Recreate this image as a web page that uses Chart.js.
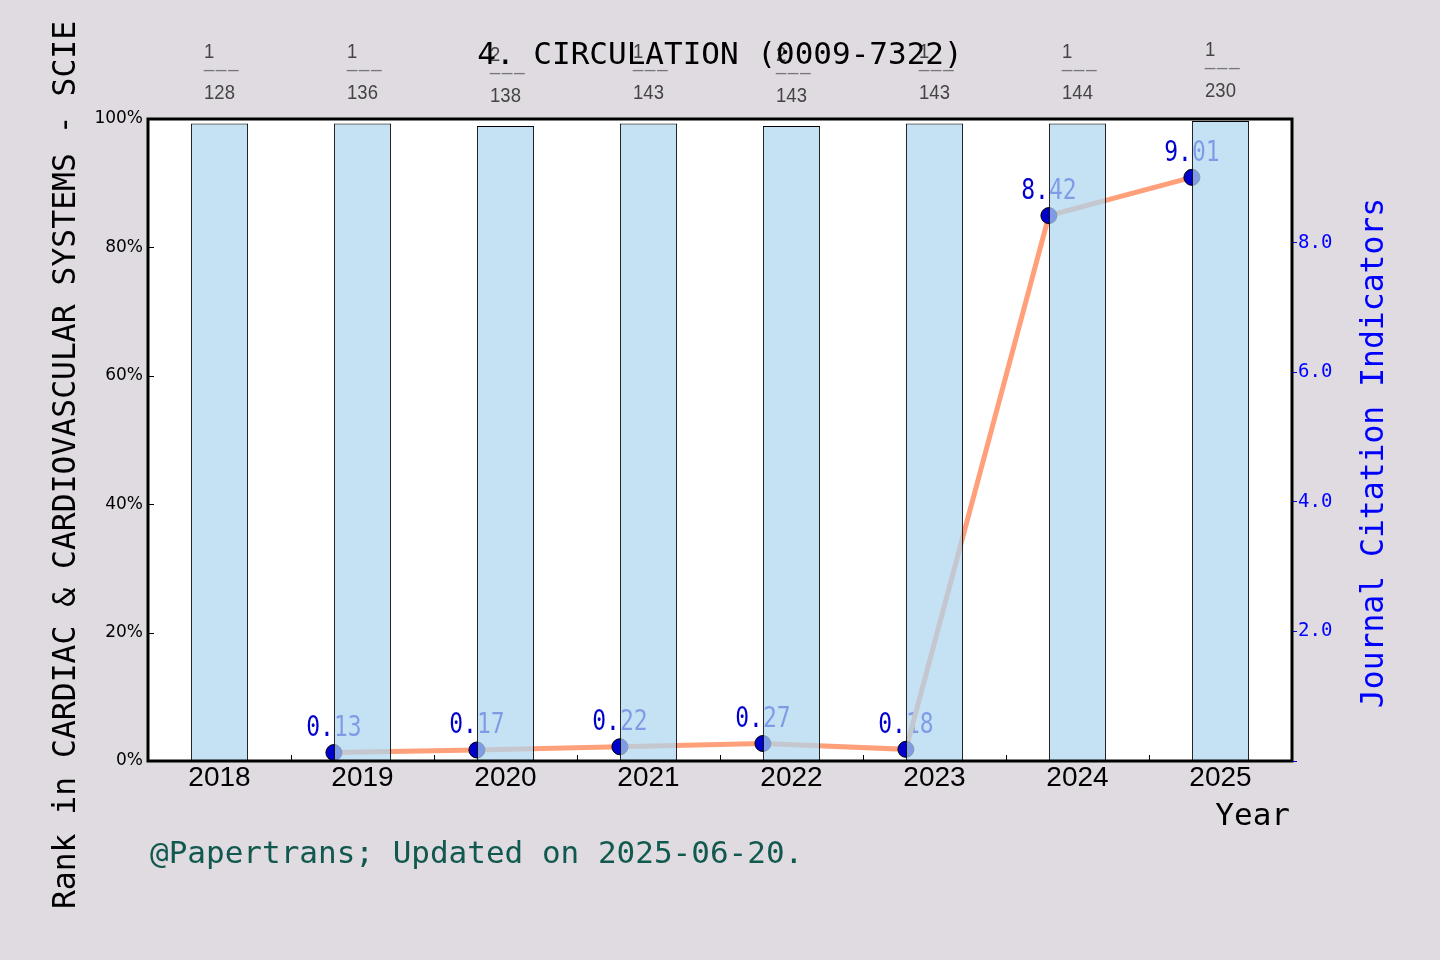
<!DOCTYPE html>
<html>
<head>
<meta charset="utf-8">
<script src="https://cdn.jsdelivr.net/npm/chart.js@4.4.0/dist/chart.umd.min.js"></script>
<style>
  html, body { margin: 0; padding: 0; background: #dfdbe1; }
  #wrap { width: 1440px; height: 960px; }
</style>
</head>
<body>
<div id="wrap"><canvas id="rankChart" width="1440" height="960"></canvas></div>
<script>
// values
const years = ['2018', '2019', '2020', '2021', '2022', '2023', '2024', '2025'];
const rankPct = [99.3, 99.3, 98.9, 99.3, 98.9, 99.3, 99.3, 99.7];
const rankNum = [1, 1, 2, 1, 2, 1, 1, 1];
const rankTotal = [128, 136, 138, 143, 143, 143, 144, 230];
const jci = [null, 0.13, 0.17, 0.22, 0.27, 0.18, 8.42, 9.01];
const pctTicks = [0, 20, 40, 60, 80, 100];
const jciTicks = [0, 2, 4, 6, 8];

const MONO = '"DejaVu Sans Mono", monospace';
const barShift = 0.2; // line points sit on the left edge of each bar

const linePoints = years
    .map((y, i) => ({ x: Number(y) - barShift, y: jci[i] }))
    .filter(p => p.y !== null);

function narrowText(ctx, text, x, y, sx) {
    ctx.save();
    ctx.translate(x, y);
    ctx.scale(sx, 1);
    ctx.fillText(text, 0, 0);
    ctx.restore();
}

const decorations = {
    id: 'decorations',
    beforeDraw(chart) {
        const { ctx, chartArea: a } = chart;
        ctx.save();
        ctx.fillStyle = '#ffffff';
        ctx.fillRect(a.left, a.top, a.right - a.left, a.bottom - a.top);
        ctx.restore();
    },
    beforeDatasetDraw(chart, args) {
        if (args.index !== 1) return;
        // value labels sit under the line and the bars
        const ctx = chart.ctx;
        const pts = chart.getDatasetMeta(1).data;
        ctx.save();
        ctx.fillStyle = '#0000cd';
        ctx.font = '23px ' + MONO;
        ctx.textAlign = 'center';
        ctx.textBaseline = 'middle';
        pts.forEach((p, i) => {
            ctx.save();
            ctx.translate(p.x, p.y - 24);
            ctx.scale(1, 1.25);
            ctx.fillText(linePoints[i].y.toFixed(2), 0, 0);
            ctx.restore();
        });
        ctx.restore();
    },
    afterDatasetsDraw(chart) {
        const { ctx, chartArea: a, scales } = chart;
        ctx.save();
        // inward ticks
        ctx.strokeStyle = '#000';
        ctx.lineWidth = 1;
        pctTicks.forEach(v => {
            const y = Math.round(scales.y.getPixelForValue(v)) + 0.5;
            ctx.beginPath();
            ctx.moveTo(a.left, y);
            ctx.lineTo(a.left + 6, y);
            ctx.stroke();
        });
        for (let i = 0; i < years.length - 1; i++) {
            const x = Math.round((scales.x.getPixelForValue(i) + scales.x.getPixelForValue(i + 1)) / 2) + 0.5;
            ctx.beginPath();
            ctx.moveTo(x, a.bottom);
            ctx.lineTo(x, a.bottom - 6);
            ctx.stroke();
        }
        // frame
        ctx.lineWidth = 3;
        ctx.strokeRect(a.left, a.top, a.right - a.left, a.bottom - a.top);

        // rank fractions above the bars
        const bars = chart.getDatasetMeta(0).data;
        const sx = 0.88;
        ctx.font = '21px "Liberation Sans", Arial, sans-serif';
        ctx.textAlign = 'left';
        ctx.textBaseline = 'alphabetic';
        bars.forEach((b, i) => {
            const den = String(rankTotal[i]);
            const w = ctx.measureText(den).width * sx;
            const left = b.x - w / 2;
            ctx.fillStyle = '#444444';
            narrowText(ctx, String(rankNum[i]), left, b.y - 65, sx);
            narrowText(ctx, den, left, b.y - 24, sx);
            ctx.fillStyle = '#777777';
            ctx.letterSpacing = '2px';
            narrowText(ctx, '___', left, b.y - 56, sx);
            ctx.letterSpacing = '0px';
        });

        // titles
        ctx.fillStyle = '#000';
        ctx.font = '31px ' + MONO;
        ctx.textAlign = 'center';
        ctx.textBaseline = 'middle';
        ctx.fillText('4. CIRCULATION (0009-7322)', 720, 56);

        ctx.save();
        ctx.translate(67, 465);
        ctx.rotate(-Math.PI / 2);
        ctx.font = '31.4px ' + MONO;
        ctx.fillText('Rank in CARDIAC & CARDIOVASCULAR SYSTEMS - SCIE', 0, 0);
        ctx.restore();

        ctx.save();
        ctx.translate(1375, 453);
        ctx.rotate(-Math.PI / 2);
        ctx.fillStyle = '#0000ff';
        ctx.font = '31.4px ' + MONO;
        ctx.fillText('Journal Citation Indicators', 0, 0);
        ctx.restore();

        ctx.textAlign = 'right';
        ctx.fillText('Year', 1290, 817);

        ctx.textAlign = 'left';
        ctx.fillStyle = '#11584f';
        ctx.fillText('@Papertrans; Updated on 2025-06-20.', 150, 855);
        ctx.restore();
    }
};

new Chart(document.getElementById('rankChart'), {
    type: 'bar',
    data: {
        labels: years,
        datasets: [{
            type: 'bar',
            label: 'Rank',
            data: rankPct,
            xAxisID: 'x',
            yAxisID: 'y',
            grouped: false,
            backgroundColor: 'rgba(175, 214, 240, 0.725)',
            borderColor: '#000000',
            borderWidth: 1,
            barPercentage: 0.4,
            categoryPercentage: 1,
            order: 1
        }, {
            type: 'line',
            label: 'JCI',
            data: linePoints,
            xAxisID: 'x2',
            yAxisID: 'y2',
            borderColor: '#ffa07a',
            borderWidth: 5,
            pointRadius: 8,
            pointBackgroundColor: '#0000cd',
            pointBorderColor: '#000000',
            pointBorderWidth: 1,
            order: 2
        }]
    },
    options: {
        responsive: false,
        devicePixelRatio: 1,
        animation: false,
        layout: { padding: { top: 119, left: 0, right: 0, bottom: 0 } },
        plugins: { legend: { display: false }, tooltip: { enabled: false } },
        scales: {
            x: {
                type: 'category',
                offset: true,
                grid: { display: false, drawTicks: false },
                border: { display: false },
                ticks: { color: '#000', font: { family: '"Liberation Sans", Arial, sans-serif', size: 28 }, padding: 0 },
                afterFit(s) { s.height = 199; }
            },
            x2: {
                type: 'linear',
                display: false,
                offset: false,
                min: Number(years[0]) - 0.5,
                max: Number(years[years.length - 1]) + 0.5
            },
            y: {
                position: 'left',
                min: 0,
                max: 100,
                grid: { display: false, drawTicks: false },
                border: { display: false },
                ticks: {
                    stepSize: 20,
                    color: '#000',
                    padding: 5,
                    font: { family: '"DejaVu Sans", sans-serif', size: 17 },
                    callback: v => v + '%'
                },
                afterFit(s) { s.width = 148; }
            },
            y2: {
                position: 'right',
                min: 0,
                max: 9.01 * 1.1,
                grid: { drawOnChartArea: false, color: '#0000ff', tickLength: 5 },
                border: { display: false },
                afterBuildTicks(s) { s.ticks = jciTicks.map(v => ({ value: v })); },
                ticks: {
                    color: '#0000ff',
                    padding: 1,
                    font: { family: MONO, size: 19 },
                    callback: v => (v === 0 ? '' : v.toFixed(1))
                },
                afterFit(s) { s.width = 148; }
            }
        }
    },
    plugins: [decorations]
});
</script>
</body>
</html>
